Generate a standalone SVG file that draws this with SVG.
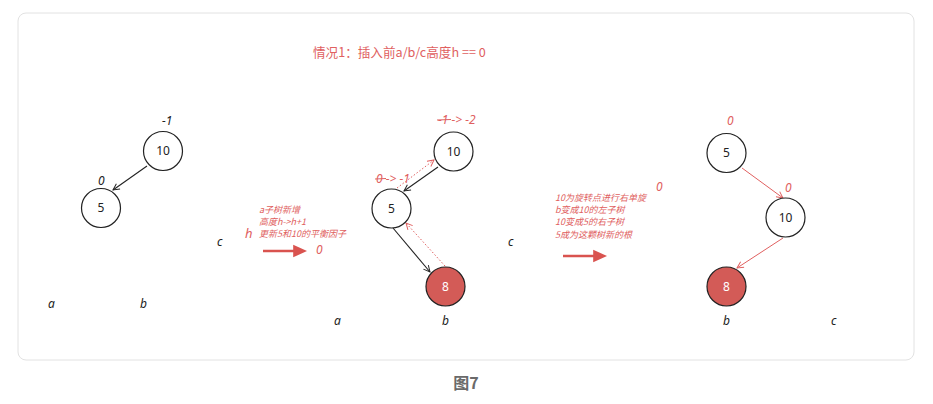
<svg xmlns="http://www.w3.org/2000/svg" width="933" height="404" viewBox="0 0 933 404">
<defs>
<style>
.card{fill:#fff;stroke:#e2e2e2;stroke-width:1}
.node{fill:#fff;stroke:#222;stroke-width:1.2}
.red-node{fill:#d35b57;stroke:#222;stroke-width:1.2}
.nt{font-family:"Noto Sans","Noto Sans CJK SC",sans-serif;font-size:12px;fill:#222;text-anchor:middle}
.nt-w{font-family:"Noto Sans","Noto Sans CJK SC",sans-serif;font-size:12px;fill:#fff;text-anchor:middle}
.lbl{font-family:"Noto Sans","Noto Sans CJK SC",sans-serif;font-size:12px;font-style:italic;fill:#222}
.rlbl{font-family:"Noto Sans","Noto Sans CJK SC",sans-serif;font-size:12px;font-style:italic;fill:#e06060}
.note{font-family:"Noto Sans CJK SC","Noto Sans",sans-serif;font-size:9px;font-style:italic;fill:#e06060}
.title{font-family:"Noto Sans CJK SC","Noto Sans",sans-serif;font-size:12.6px;fill:#e06060}
.cap{font-family:"Noto Sans CJK SC","Noto Sans",sans-serif;font-size:16px;font-weight:bold;fill:#6a6a6a;text-anchor:middle}
.blk{stroke:#222;stroke-width:1.1;fill:none}
.rline{stroke:#e06060;stroke-width:1;fill:none}
.rdot{stroke:#e06060;stroke-width:1;stroke-dasharray:1.5 2;fill:none}
.big{stroke:#d9534f;stroke-width:2.5;fill:none}
.strike{stroke:#e06060;stroke-width:1}
</style>
<marker id="ab" viewBox="0 0 10 10" refX="9" refY="5" markerWidth="8" markerHeight="8" orient="auto" markerUnits="userSpaceOnUse"><path d="M1,1 L9,5 L1,9" fill="none" stroke="#222" stroke-width="1.2"/></marker>
<marker id="ar" viewBox="0 0 10 10" refX="9" refY="5" markerWidth="8" markerHeight="8" orient="auto" markerUnits="userSpaceOnUse"><path d="M1,1 L9,5 L1,9" fill="none" stroke="#e06060" stroke-width="1.2"/></marker>
<marker id="abig" viewBox="0 0 10 10" refX="2" refY="5" markerWidth="14" markerHeight="14" orient="auto" markerUnits="userSpaceOnUse"><path d="M0,0.5 L10,5 L0,9.5 Z" fill="#d9534f"/></marker>
</defs>
<rect width="933" height="404" fill="#fff"/>
<rect class="card" x="18" y="13" width="896" height="347" rx="8"/>
<text class="title" x="313" y="57">情况1：插入前a/b/c高度h == 0</text>

<g id="connectors">
<line class="blk" x1="147" y1="166" x2="113" y2="190" marker-end="url(#ab)"/>
<line class="blk" x1="438" y1="167" x2="404" y2="191" marker-end="url(#ab)"/>
<line class="blk" x1="393" y1="228" x2="430" y2="272" marker-end="url(#ab)"/>
<line class="rdot" x1="397" y1="188" x2="434" y2="160" marker-end="url(#ar)"/>
<line class="rdot" x1="445" y1="266" x2="406" y2="223" marker-end="url(#ar)"/>
<line class="rline" x1="742" y1="168" x2="783" y2="198" marker-end="url(#ar)"/>
<line class="rline" x1="783" y1="238" x2="737" y2="268" marker-end="url(#ar)"/>
<line class="big" x1="263" y1="251" x2="296" y2="251" marker-end="url(#abig)"/>
<line class="big" x1="563" y1="256" x2="596" y2="256" marker-end="url(#abig)"/>
</g>

<g id="t1-n10"><circle class="node" cx="163" cy="151" r="19.5"/><text class="nt" x="163" y="155">10</text></g>
<g id="t1-n5"><circle class="node" cx="101" cy="208" r="19.5"/><text class="nt" x="101" y="212">5</text></g>
<text class="lbl" x="162" y="125">-1</text>
<text class="lbl" x="98" y="185">0</text>
<text class="lbl" x="48" y="308">a</text>
<text class="lbl" x="140" y="308">b</text>
<text class="lbl" x="217" y="246">c</text>

<text class="note" x="259" y="213">a子树新增</text>
<text class="note" x="259" y="225">高度h-&gt;h+1</text>
<text class="note" x="259" y="237">更新5和10的平衡因子</text>
<text class="rlbl" x="245" y="238" style="font-size:13px">h</text>
<text class="rlbl" x="316" y="254">0</text>

<g id="t2-n10"><circle class="node" cx="453.5" cy="151.5" r="19.5"/><text class="nt" x="453.5" y="155.5">10</text></g>
<g id="t2-n5"><circle class="node" cx="391.5" cy="208.5" r="19.5"/><text class="nt" x="391.5" y="212.5">5</text></g>
<g id="t2-n8"><circle class="red-node" cx="445.5" cy="286.5" r="19.5"/><text class="nt-w" x="445.5" y="290.5">8</text></g>
<text class="rlbl" x="438" y="124">-1 -&gt; -2</text>
<line class="strike" x1="437" y1="120" x2="451" y2="119.5"/>
<text class="rlbl" x="376" y="183">0 -&gt; -1</text>
<line class="strike" x1="375" y1="179" x2="386" y2="178.5"/>
<text class="lbl" x="334" y="325">a</text>
<text class="lbl" x="442" y="325">b</text>
<text class="lbl" x="508" y="246">c</text>

<text class="note" x="555" y="201">10为旋转点进行右单旋</text>
<text class="note" x="555" y="213">b变成10的左子树</text>
<text class="note" x="555" y="225">10变成5的右子树</text>
<text class="note" x="555" y="238">5成为这颗树新的根</text>
<text class="rlbl" x="656" y="191">0</text>

<g id="t3-n5"><circle class="node" cx="726.5" cy="153" r="19.5"/><text class="nt" x="726.5" y="157">5</text></g>
<g id="t3-n10"><circle class="node" cx="785.5" cy="217.5" r="19.5"/><text class="nt" x="785.5" y="221.5">10</text></g>
<g id="t3-n8"><circle class="red-node" cx="726.5" cy="286.5" r="19.5"/><text class="nt-w" x="726.5" y="290.5">8</text></g>
<text class="rlbl" x="727" y="125">0</text>
<text class="rlbl" x="785" y="192">0</text>
<text class="lbl" x="723" y="325">b</text>
<text class="lbl" x="831" y="325">c</text>

<text class="cap" x="466" y="389">图7</text>
</svg>
